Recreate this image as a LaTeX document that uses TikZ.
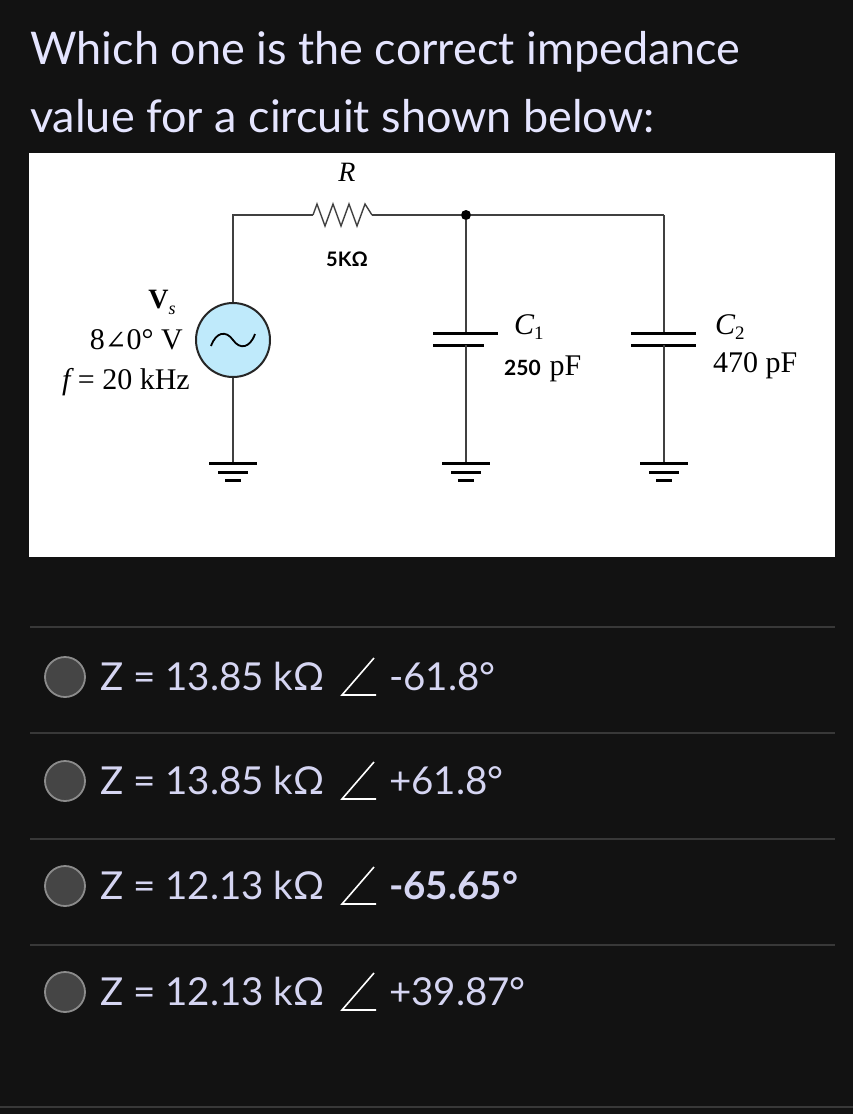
\documentclass[tikz,border=0pt]{standalone}
\usepackage{fontspec}
\setmainfont{Lato}
\newfontfamily\serif{Liberation Serif}
\newfontfamily\djv{DejaVu Serif}
\begin{document}
\begin{tikzpicture}[x=1pt,y=-1pt,
  wire/.style={draw=black!75,line width=1.4pt},
  plate/.style={draw=black,line width=3pt},
  sep/.style={draw=white!22!black,line width=1.2pt},
  opt/.style={circle,draw=white!55!black,fill=white!27!black,line width=1.8pt,minimum size=40pt,inner sep=0pt},
  otext/.style={anchor=base west,text=white!88!blue!95!black,font=\fontsize{38.5}{40}\selectfont,inner sep=0pt},
  ang/.style={draw=white,line width=1.6pt},
  ser/.style={font=\serif\fontsize{30}{32}\selectfont,inner sep=0pt}]
\useasboundingbox (0,0) rectangle (853,1114);
\fill[white!7!black] (0,0) rectangle (853,1114);
\node[anchor=base west,inner sep=0pt,text=white!90!blue,font=\fontsize{45}{48}\selectfont] (t1) at (30,64) {Which one is the correct impedance};
\node[anchor=base west,inner sep=0pt,text=white!90!blue,font=\fontsize{45}{48}\selectfont] (t2) at (30,132) {value for a circuit shown below:};
\fill[white] (29,153) rectangle (835,557);
% circuit
\node[circle,draw=black!85,fill=cyan!25!white,line width=2pt,minimum size=74pt,inner sep=0pt] (vs) at (233,340) {};
\draw[line width=1.8pt] (211,346) .. controls (216,332) and (226,330) .. (233,340) .. controls (240,350) and (250,348) .. (255,334);
\coordinate (tl) at (233,215);
\coordinate (r1) at (313,215);
\coordinate (r2) at (372,215);
\node[circle,fill=black,inner sep=0pt,minimum size=10pt] (dot) at (466,215) {};
\coordinate (tr) at (664,215);
\draw[wire] (vs.north) -- (tl) -- (r1);
\draw[wire] (r1) -- ++(4,-11) -- ++(8,22) -- ++(8,-22) -- ++(8,22) -- ++(8,-22) -- ++(8,22) -- ++(8,-22) -- (r2);
\draw[wire] (r2) -- (dot) -- (tr);
% C1
\coordinate (c1a) at (466,333); \coordinate (c1b) at (466,345);
\draw[wire] (dot) -- (c1a);
\draw[plate] (433,333) -- (498,333);
\draw[plate] (433,345) -- (484,345);
\draw[wire] (c1b) -- (466,463);
% C2
\coordinate (c2a) at (664,333); \coordinate (c2b) at (664,345);
\draw[wire] (tr) -- (c2a);
\draw[plate] (631,333) -- (696,333);
\draw[plate] (631,345) -- (696,345);
\draw[wire] (c2b) -- (664,463);
% source ground
\draw[wire] (vs.south) -- (233,463);
\foreach \x in {233,466,664}{
  \draw[line width=3pt] (\x-24,463) -- (\x+24,463);
  \draw[line width=3pt] (\x-15,472) -- (\x+15,472);
  \draw[line width=3pt] (\x-8,480) -- (\x+8,480);
}
% labels
\node[ser,font=\serif\itshape\fontsize{28}{30}\selectfont] (lR) at (347,172) {R};
\node[inner sep=0pt,font=\bfseries\fontsize{20}{22}\selectfont] (l5k) at (347,259) {5KΩ};
\node[ser,anchor=base,font=\serif\bfseries\fontsize{28}{30}\selectfont] (lvs) at (162,308) {V\raisebox{-6pt}{\fontsize{18}{18}\selectfont\mdseries\itshape s}};
\node[ser,anchor=base east] (lv) at (183,349) {8\djv\fontsize{26}{28}\selectfont∠\serif\fontsize{30}{32}\selectfont0° V};
\node[ser,anchor=base east] (lf) at (190,389) {\itshape f\upshape\ = 20 kHz};
\node[ser,anchor=base west] (lc1) at (514,334) {\itshape C\upshape\raisebox{-5pt}{\fontsize{19}{19}\selectfont 1}};
\node[anchor=base west,inner sep=0pt] (l250) at (504,375) {\fontsize{21}{22}\selectfont\bfseries 250\hspace{9pt}\serif\mdseries\fontsize{30}{32}\selectfont pF};
\node[ser,anchor=base west] (lc2) at (715,334) {\itshape C\upshape\raisebox{-5pt}{\fontsize{19}{19}\selectfont 2}};
\node[ser,anchor=base west] (l470) at (713,372) {470 pF};
% separators
\foreach \y in {627,733,839,945}{ \draw[sep] (30,\y) -- (835,\y); }
\draw[sep] (0,1107) -- (853,1107);
% options
\foreach \y/\n/\z/\t in {677/a/13.85/{-61.8°},781/b/13.85/{+61.8°},886/c/12.13/{\bfseries -65.65°},992/d/12.13/{+39.87°}}{
  \node[opt] (o\n) at (65,\y) {};
  \node[otext] (z\n) at (100,\y+13) {Z = \z\ kΩ};
  \draw[ang] (374,\y-19) -- (342,\y+18) -- (376,\y+18);
  \node[otext] (v\n) at (389,\y+13) {\t};
}
\end{tikzpicture}
\end{document}
